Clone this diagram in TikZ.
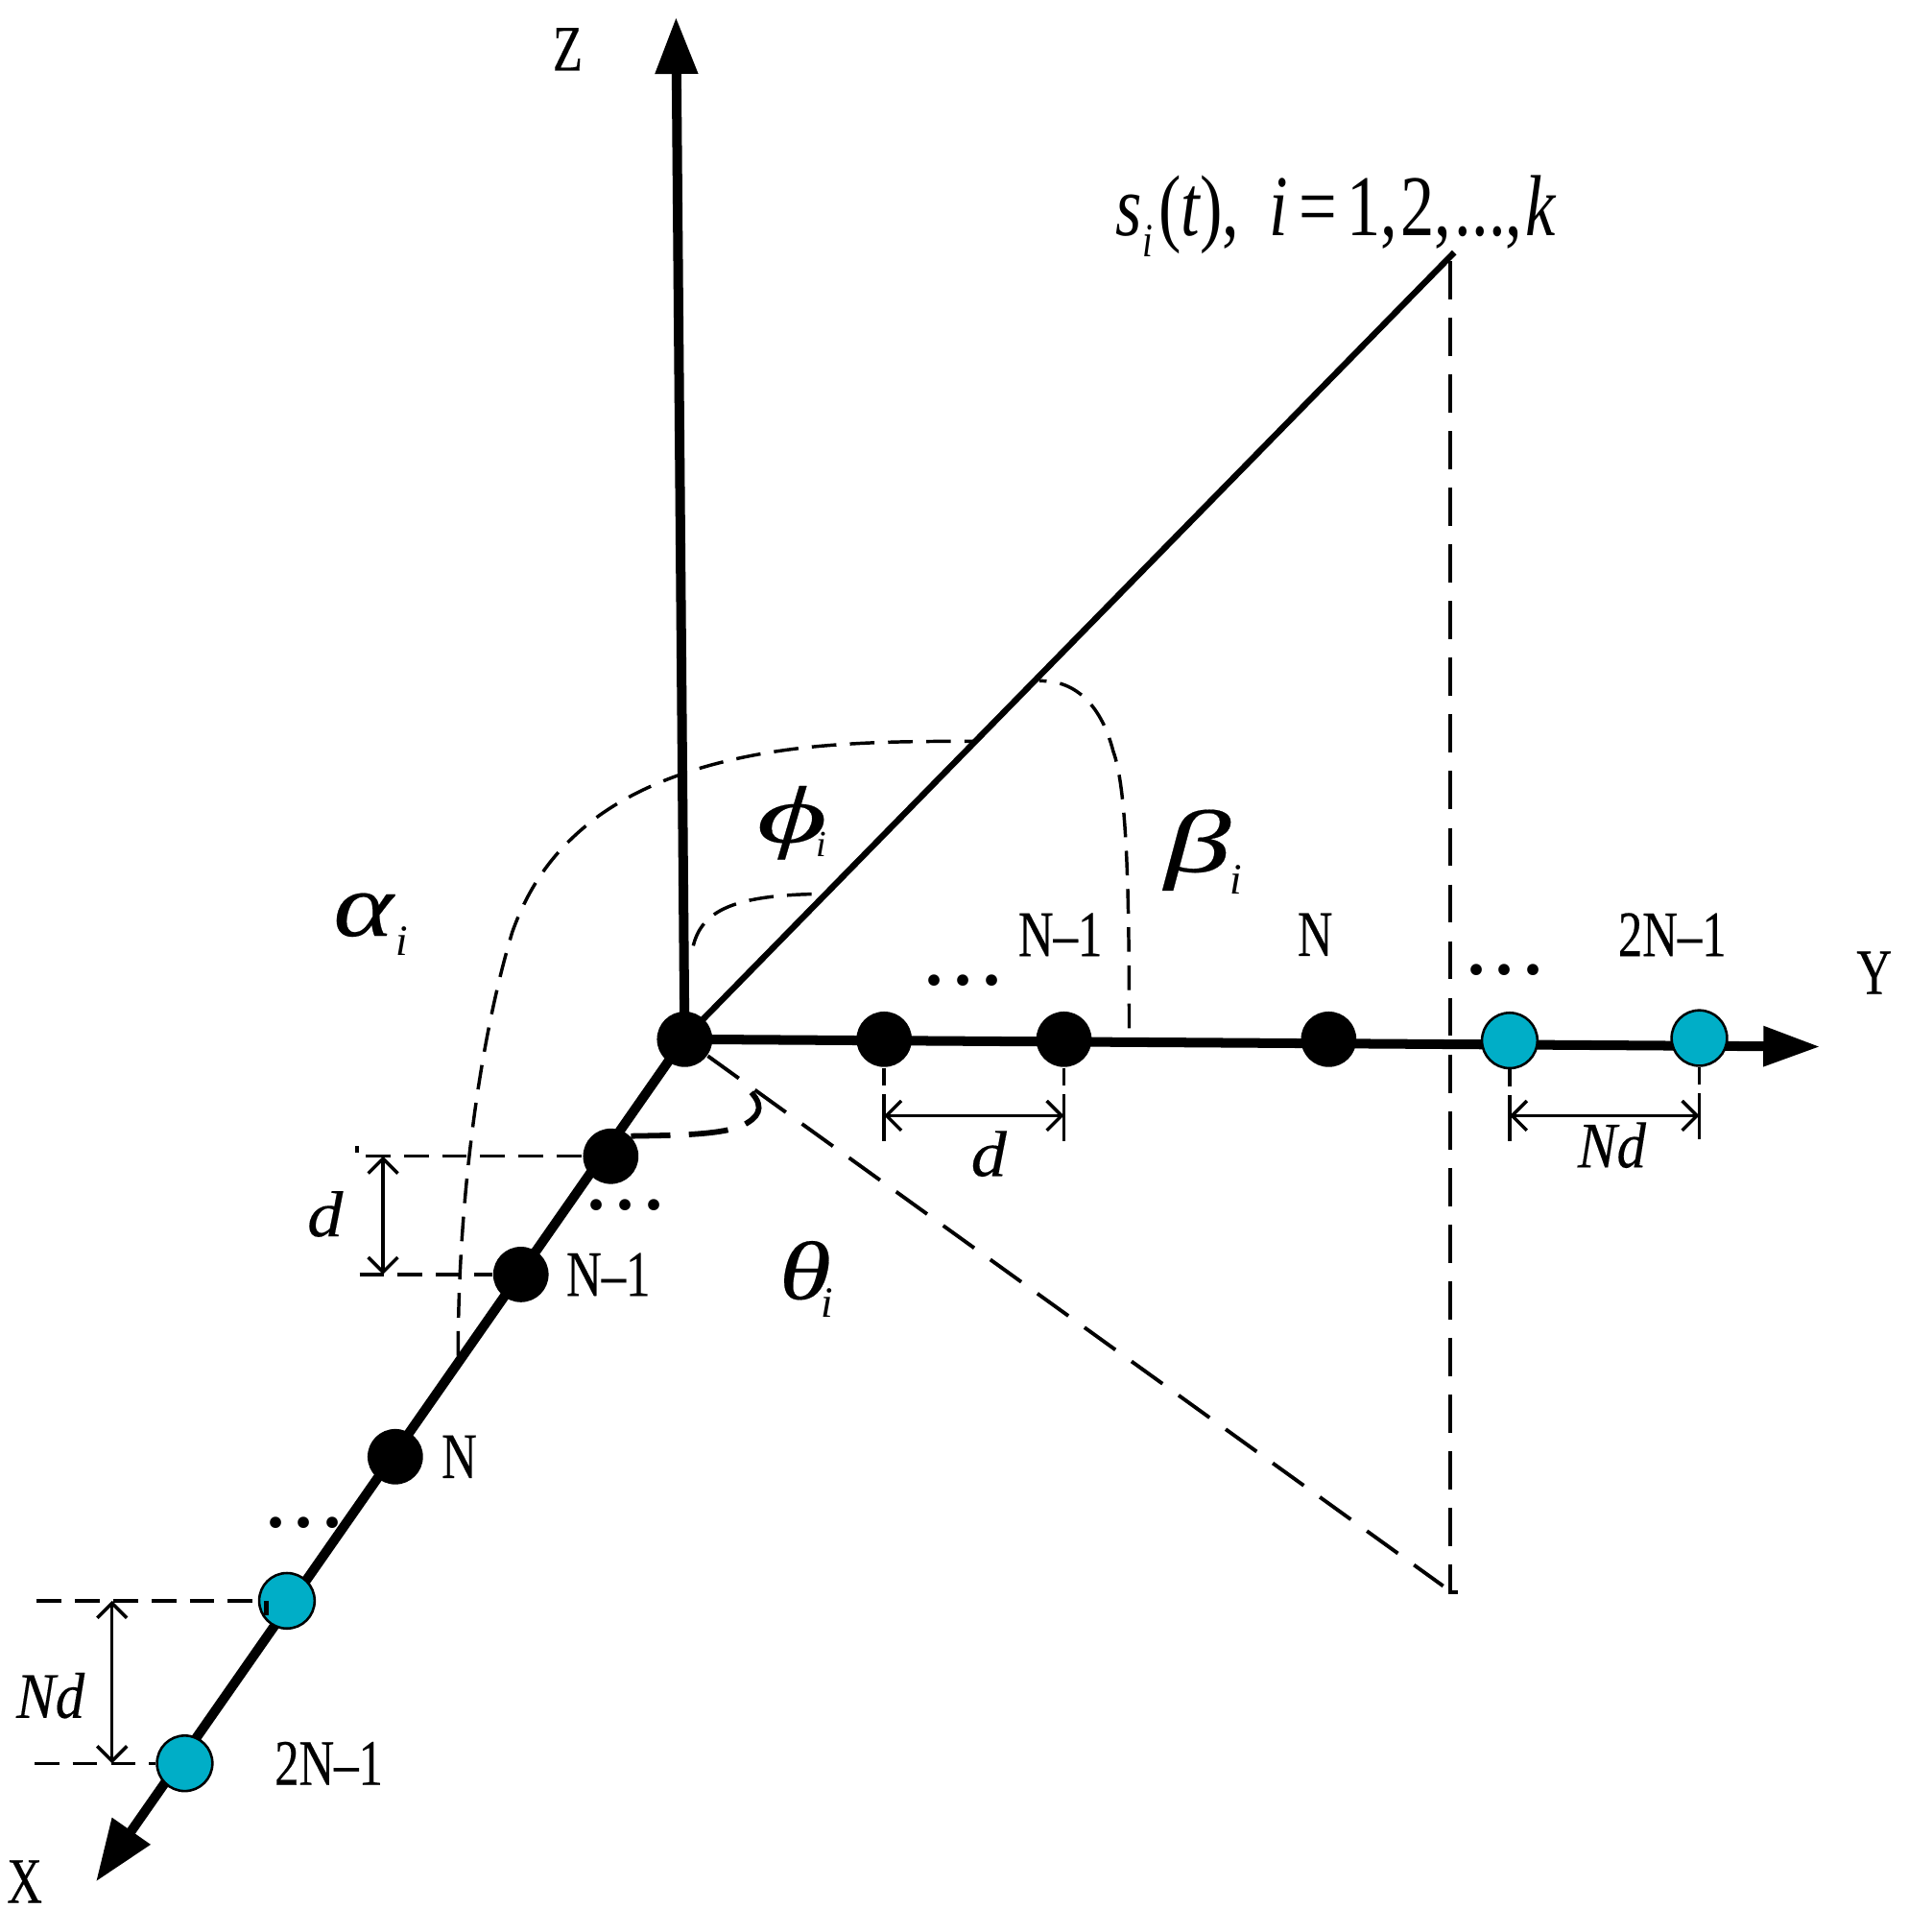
\documentclass[tikz,border=0pt]{standalone}
\usepackage{fontspec}
\usepackage{graphicx}
\setmainfont{Liberation Serif}
\newfontfamily\labf[FakeBold=.35]{Liberation Serif}
\newfontfamily\gkf[ItalicFont={Liberation Serif Italic},ItalicFeatures={FakeBold=.2}]{Liberation Serif}
\usetikzlibrary{arrows.meta}
\newcommand{\cond}[1]{\scalebox{.75}[1]{#1}}
\newcommand{\gksym}[7]{\makebox[#4][l]{\scalebox{#2}[#3]{\gkf\itshape #1}}\raisebox{-#5}{\fontsize{#6}{#6}\selectfont\itshape #7}}
\newcommand{\tdots}{.\kern2.6pt.\kern2.6pt.}
\tikzset{
  x=0.01cm,y=-0.01cm,
  blackdot/.style={circle,fill=black,draw=none,minimum size=.45cm,inner sep=0pt},
  tealdot/.style={circle,fill=tealc,draw=black,line width=.2mm,minimum size=.45cm,inner sep=0pt},
  axis/.style={line width=.78mm,draw=black},
  ray/.style={line width=.5mm,draw=black},
  shortdash/.style={line width=.27mm,dash pattern=on .2cm off .11cm},
  longdash/.style={line width=.3mm,dash pattern=on .31cm off .15cm},
  slantdash/.style={line width=.3mm,dash pattern=on .31cm off .161cm},
  stubdash/.style={line width=.27mm,dash pattern=on .14cm off .07cm on .42cm off 1cm},
  hookdash/.style={line width=.45mm,dash pattern=on .32cm off .15cm},
  dimline/.style={line width=.27mm,{Straight Barb[length=.12cm,width=.24cm]}-{Straight Barb[length=.12cm,width=.24cm]}},
  lab/.style={inner sep=0pt,font=\fontsize{15}{15}\selectfont\labf},
  lbl/.style={inner sep=0pt,font=\fontsize{15}{15}\selectfont\gkf\itshape},
  greek/.style={inner sep=0pt,anchor=base west,font=\fontsize{24}{24}\selectfont},
  dotsl/.style={inner sep=0pt,font=\fontsize{16}{16}\selectfont\bfseries}
}
\definecolor{tealc}{HTML}{00AEC7}
\begin{document}
\begin{tikzpicture}
\useasboundingbox (0,0) rectangle (1550,1569);
% free ends
\coordinate (ztip) at (549,14);
\coordinate (ytip) at (1478,850);
\coordinate (xtip) at (78,1528);
\coordinate (src) at (1181,205);
\coordinate (foot) at (1178,1293);
\coordinate (footr) at (1184,1293);
\coordinate (gnd) at (1172,1288);
\coordinate (srcv) at (1178,212);
% axes
\draw[axis,-{Triangle[length=.46cm,width=.33cm]}] (556,843) -- (ztip);
\draw[axis,-{Triangle[length=.46cm,width=.31cm]}] (556,844) -- (ytip);
\draw[axis,-{Triangle[length=.5cm,width=.36cm]}] (556,843) -- (xtip);
\draw[ray] (556,843) -- (src);
% dots
\node[blackdot] (o) at (556,844) {};
\node[blackdot] (y1) at (718,844) {};
\node[blackdot] (y2) at (864,844) {};
\node[blackdot] (y3) at (1079,844) {};
\node[tealdot] (y4) at (1226,845) {};
\node[tealdot] (y5) at (1380,843) {};
\node[blackdot] (x1) at (496,939) {};
\node[blackdot] (x2) at (423,1035) {};
\node[blackdot] (x3) at (321,1183) {};
\node[tealdot] (x4) at (233,1300) {};
\node[tealdot] (x5) at (150,1432) {};
% projection lines
\draw[longdash] (srcv) -- (foot) -- (footr);
\draw[slantdash] (o) -- (gnd);
% angle arcs
\coordinate (aS) at (372,1101);
\coordinate (aM) at (416,757);
\coordinate (aN) at (487,662);
\coordinate (aP) at (665,606);
\coordinate (aE) at (794,602);
\coordinate (bS) at (917,835);
\coordinate (bM) at (904,610);
\coordinate (bE) at (844,553);
\coordinate (pS) at (563,768);
\coordinate (pE) at (665,726);
\coordinate (tM) at (603,914);
\coordinate (tE) at (610,887);
\draw[shortdash] (aS) .. controls (372,980) and (388,850) .. (aM) .. controls (432,712) and (457,684) .. (aN) .. controls (535,628) and (600,612) .. (aP) .. controls (710,602) and (750,602) .. (aE);
\draw[shortdash] (bS) .. controls (917,720) and (915,640) .. (bM) .. controls (895,575) and (875,552) .. (bE);
\draw[shortdash] (pS) .. controls (570,740) and (595,727) .. (pE);
\draw[hookdash] (x1.45) .. controls (545,922) and (585,922) .. (tM) .. controls (615,908) and (622,900) .. (tE);
% dimension: d on X
\coordinate (a0) at (290,931);
\coordinate (a00) at (290,936);
\coordinate (a1) at (297,939);
\coordinate (a2) at (292,1035);
\coordinate (a3) at (311,939);
\coordinate (a4) at (311,1035);
\draw[line width=.3mm] (a0) -- (a00);
\draw[shortdash] (a1) -- (x1);
\draw[shortdash] (a2) -- (x2);
\draw[dimline] (a3) -- (a4);
\node[lbl] (dl1) at (264,986) {\scalebox{1.1}[1]{d}};
% dimension: d on Y
\coordinate (b1) at (718,927);
\coordinate (b2) at (864,927);
\coordinate (b3) at (718,906);
\coordinate (b4) at (864,906);
\draw[stubdash] (y1) -- (b1);
\draw[stubdash] (y2) -- (b2);
\draw[dimline] (b3) -- (b4);
\node[lbl] (dl2) at (803,937) {\scalebox{1.1}[1]{d}};
% dimension: Nd on Y
\coordinate (c1) at (1226,927);
\coordinate (c2) at (1380,925);
\coordinate (c3) at (1226,906);
\coordinate (c4) at (1380,906);
\draw[stubdash] (y4) -- (c1);
\draw[stubdash] (y5) -- (c2);
\draw[dimline] (c3) -- (c4);
\node[lbl] (nd1) at (1309,930) {\scalebox{.9}[1]{Nd}};
% dimension: Nd on X
\coordinate (e1) at (30,1300);
\coordinate (e2) at (28,1432);
\coordinate (e3) at (91,1300);
\coordinate (e4) at (91,1432);
\coordinate (e5) at (216,1300);
\coordinate (e6) at (216,1312);
\draw[shortdash] (e1) -- (x4);
\draw[shortdash] (e2) -- (x5);
\draw[line width=.4mm] (e5) -- (e6);
\draw[dimline] (e3) -- (e4);
\node[lbl] (nd2) at (41,1377) {\scalebox{.9}[1]{Nd}};
% axis labels
\node[lab] (lz) at (461,40) {\cond{Z}};
\node[lab] (ly) at (1522,790) {\cond{Y}};
\node[lab] (lx) at (20,1528) {\cond{X}};
% element labels
\node[lab] (n1) at (861,759) {\cond{N–1}};
\node[lab] (n2) at (1068,759) {\cond{N}};
\node[lab] (n3) at (1358,759) {\cond{2N–1}};
\node[lab] (n4) at (494,1035) {\cond{N–1}};
\node[lab] (n5) at (373,1183) {\cond{N}};
\node[lab] (n6) at (267,1432) {\cond{2N–1}};
% dots
\node[dotsl] (d1) at (782,796) {\tdots};
\node[dotsl] (d2) at (1222,788) {\tdots};
\node[dotsl] (d3) at (508,979) {\tdots};
\node[dotsl] (d4) at (247,1237) {\tdots};
% greek
\node[greek] (al) at (270,760) {\gksym{α}{1.1}{.87}{14.4pt}{4.5pt}{10}{i}};
\node[greek] (be) at (945,708) {\gksym{β}{1.28}{.85}{15pt}{5.1pt}{10}{i}};
\node[greek] (ph) at (614,684) {\gksym{ϕ}{1.3}{.78}{13.6pt}{3.4pt}{8.5}{i}};
\node[greek] (th) at (632,1055) {\gksym{θ}{1.02}{.8}{9.8pt}{4.3pt}{10}{i}};
% source
\node[inner sep=0pt,anchor=base west,font=\fontsize{20}{20}\selectfont] (srcl) at (905,191) {\scalebox{.78}[1]{\itshape s\kern.02em\raisebox{-.25em}{\fontsize{11}{11}\selectfont i}\kern.08em\upshape(\itshape t\upshape),\hspace{.45em}\itshape i\upshape\kern.15em=\kern.15em 1,\kern.05em 2,\kern.05em ...,\kern.05em\itshape k}};
\end{tikzpicture}
\end{document}
